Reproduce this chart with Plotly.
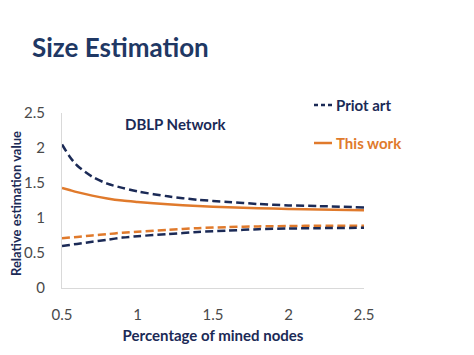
import plotly.graph_objects as go

# Data
x_vals = [0.5, 0.55, 0.6, 0.7, 0.8, 0.9, 1.0, 1.2, 1.4, 1.6, 1.8, 2.0, 2.2, 2.5]
prior_upper = [2.05, 1.88, 1.75, 1.59, 1.49, 1.43, 1.38, 1.31, 1.26, 1.23, 1.20, 1.18, 1.17, 1.15]
prior_lower = [0.60, 0.615, 0.63, 0.66, 0.69, 0.72, 0.74, 0.77, 0.80, 0.82, 0.84, 0.85, 0.855, 0.86]
this_upper = [1.43, 1.40, 1.37, 1.32, 1.28, 1.25, 1.23, 1.195, 1.17, 1.153, 1.14, 1.13, 1.12, 1.11]
this_lower = [0.71, 0.72, 0.73, 0.75, 0.77, 0.79, 0.805, 0.83, 0.855, 0.87, 0.88, 0.885, 0.89, 0.89]

x_ticks = [0.5, 1, 1.5, 2, 2.5]
x_tick_text = ["0.5", "1", "1.5", "2", "2.5"]
y_ticks = [0, 0.5, 1, 1.5, 2, 2.5]
y_tick_text = ["0", "0.5", "1", "1.5", "2", "2.5"]

NAVY = "#1B2A56"
ORANGE = "#E07A2C"
FONT = "Lato"

# page has an 8px body margin; target plot area in window pixels: x 62..364, y 113..288
OFF = 8
W, H = 474 - OFF, 355 - OFF
PL, PR, PT, PB = 62 - OFF, 364 - OFF, 113 - OFF, 288 - OFF


def px(xw):
    return (xw - 62) / 302


def py(yw):
    return (288 - yw) / 175


fig = go.Figure()
dash = "8px,4px"
fig.add_trace(go.Scatter(x=x_vals, y=prior_upper, mode="lines", line=dict(color=NAVY, width=2.5, dash=dash, shape="spline", smoothing=0.8), showlegend=False))
fig.add_trace(go.Scatter(x=x_vals, y=this_upper, mode="lines", line=dict(color=ORANGE, width=2.5, shape="spline", smoothing=0.8), showlegend=False))
fig.add_trace(go.Scatter(x=x_vals, y=this_lower, mode="lines", line=dict(color=ORANGE, width=2.5, dash=dash, shape="spline", smoothing=0.8), showlegend=False))
fig.add_trace(go.Scatter(x=x_vals, y=prior_lower, mode="lines", line=dict(color=NAVY, width=2.5, dash=dash, shape="spline", smoothing=0.8), showlegend=False))

fig.update_layout(
    width=W, height=H,
    margin=dict(l=PL, r=W - PR, t=PT, b=H - PB, autoexpand=False),
    paper_bgcolor="white", plot_bgcolor="white",
    font=dict(family=FONT, size=15, color="#4A4A4A"),
    xaxis=dict(range=[0.5, 2.5], tickvals=x_ticks, ticktext=x_tick_text, showgrid=False, zeroline=False,
               showline=True, linecolor="#D9D9D9", linewidth=1, ticks="", ticklabelstandoff=13,
               title=dict(text="<b>Percentage of mined nodes</b>", font=dict(family=FONT, size=15, color=NAVY), standoff=8)),
    yaxis=dict(range=[0, 2.5], tickvals=y_ticks, ticktext=y_tick_text, showgrid=False, zeroline=False,
               showline=True, linecolor="#D9D9D9", linewidth=1, ticks="", ticklabelstandoff=13),
    annotations=[
        dict(text="<b>Size Estimation</b>", xref="paper", yref="paper", x=px(30), y=py(47),
             xanchor="left", yanchor="middle", showarrow=False, font=dict(family=FONT, size=26, color="#1F3864")),
        dict(text="<b>Relative estimation value</b>", xref="paper", yref="paper", x=px(16), y=py(204),
             xanchor="center", yanchor="middle", textangle=-90, showarrow=False,
             font=dict(family=FONT, size=13, color=NAVY)),
        dict(text="<b>DBLP Network</b>", xref="paper", yref="paper", x=px(176), y=py(124),
             xanchor="center", yanchor="middle", showarrow=False, font=dict(family=FONT, size=15, color=NAVY)),
        dict(text="<b>Priot art</b>", xref="paper", yref="paper", x=px(334), y=py(105),
             xanchor="left", yanchor="middle", showarrow=False, font=dict(family=FONT, size=15, color=NAVY)),
        dict(text="<b>This work</b>", xref="paper", yref="paper", x=px(334), y=py(143),
             xanchor="left", yanchor="middle", showarrow=False, font=dict(family=FONT, size=15, color=ORANGE)),
    ],
    shapes=[
        dict(type="line", xref="paper", yref="paper", x0=px(314), x1=px(332),
             y0=py(105), y1=py(105), line=dict(color=NAVY, width=2.5, dash="4px,3px")),
        dict(type="line", xref="paper", yref="paper", x0=px(314), x1=px(332),
             y0=py(143), y1=py(143), line=dict(color=ORANGE, width=2.5)),
    ],
)

fig.write_html("out.html")
